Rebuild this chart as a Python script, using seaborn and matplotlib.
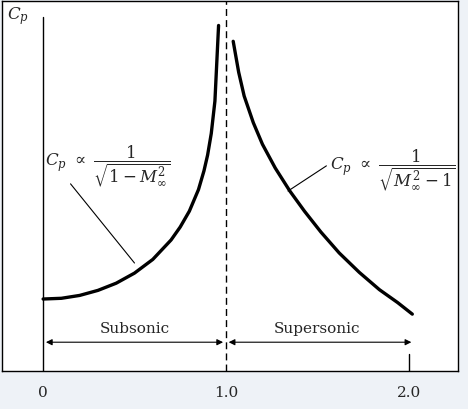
import matplotlib
matplotlib.use("Agg")
import matplotlib.pyplot as plt
import seaborn as sns

sns.set_style("white")
plt.rcParams['mathtext.fontset'] = 'dejavuserif'
plt.rcParams['font.family'] = ['DejaVu Serif']

# values (Cp in arbitrary units)
mach_sub = [0.0, 0.1, 0.2, 0.3, 0.4, 0.5, 0.6, 0.7, 0.75, 0.8, 0.85, 0.88, 0.9, 0.92, 0.94, 0.96]
cp_sub = [1.0, 1.01, 1.05, 1.12, 1.22, 1.36, 1.55, 1.82, 2.0, 2.22, 2.52, 2.78, 3.0, 3.3, 3.75, 4.8]
mach_sup = [1.04, 1.07, 1.1, 1.15, 1.2, 1.27, 1.35, 1.43, 1.52, 1.62, 1.73, 1.84, 1.94, 2.02]
cp_sup = [4.58, 4.15, 3.82, 3.45, 3.15, 2.82, 2.5, 2.22, 1.93, 1.64, 1.37, 1.13, 0.95, 0.79]
xticks = [0, 1.0, 2.0]
xticklabels = ["0", "1.0", "2.0"]

fig = plt.figure(figsize=(4.68, 4.10), dpi=100, facecolor="#eef2f7")
ax = fig.add_axes([2/468, 38/410, 456/468, 370/410])
ax.set_xlim(-0.225, 2.27)
ax.set_ylim(0, 5.14)
for s in ax.spines.values():
    s.set_color("black"); s.set_linewidth(1.0)
ax.set_xticks([]); ax.set_yticks([])

sns.lineplot(x=mach_sub, y=cp_sub, ax=ax, color="black", lw=2.4, sort=False)
sns.lineplot(x=mach_sup, y=cp_sup, ax=ax, color="black", lw=2.4, sort=False)

ax.plot([0, 0], [0, 4.92], color="black", lw=1.0)
ax.axvline(1.0, color="black", lw=1.0, ls=(0, (5, 3)))
ax.plot([2.0, 2.0], [0, 0.24], color="black", lw=1.0)

arr = dict(arrowstyle="<|-|>", color="black", lw=0.8, mutation_scale=9)
ax.annotate("", xy=(0, 0.4), xytext=(1.0, 0.4), arrowprops=arr)
ax.annotate("", xy=(1.0, 0.4), xytext=(2.03, 0.4), arrowprops=arr)
ax.text(0.5, 0.5, "Subsonic", ha="center", va="bottom", fontsize=11)
ax.text(1.5, 0.5, "Supersonic", ha="center", va="bottom", fontsize=11)

ax.text(-0.2, 4.95, r"$C_p$", fontsize=12, va="center")
for x, lab in zip(xticks, xticklabels):
    ax.text(x, -0.2, lab, ha="center", va="top", fontsize=11, clip_on=False)

ax.text(0.01, 2.85, r"$C_p\ \propto\ \dfrac{1}{\sqrt{1-M_\infty^2}}$", fontsize=12, va="center")
ax.plot([0.15, 0.5], [2.6, 1.5], color="black", lw=0.8)
ax.text(1.57, 2.8, r"$C_p\ \propto\ \dfrac{1}{\sqrt{M_\infty^2-1}}$", fontsize=12, va="center")
ax.plot([1.34, 1.55], [2.5, 2.85], color="black", lw=0.8)

fig.savefig("out.png", dpi=100, facecolor=fig.get_facecolor())
